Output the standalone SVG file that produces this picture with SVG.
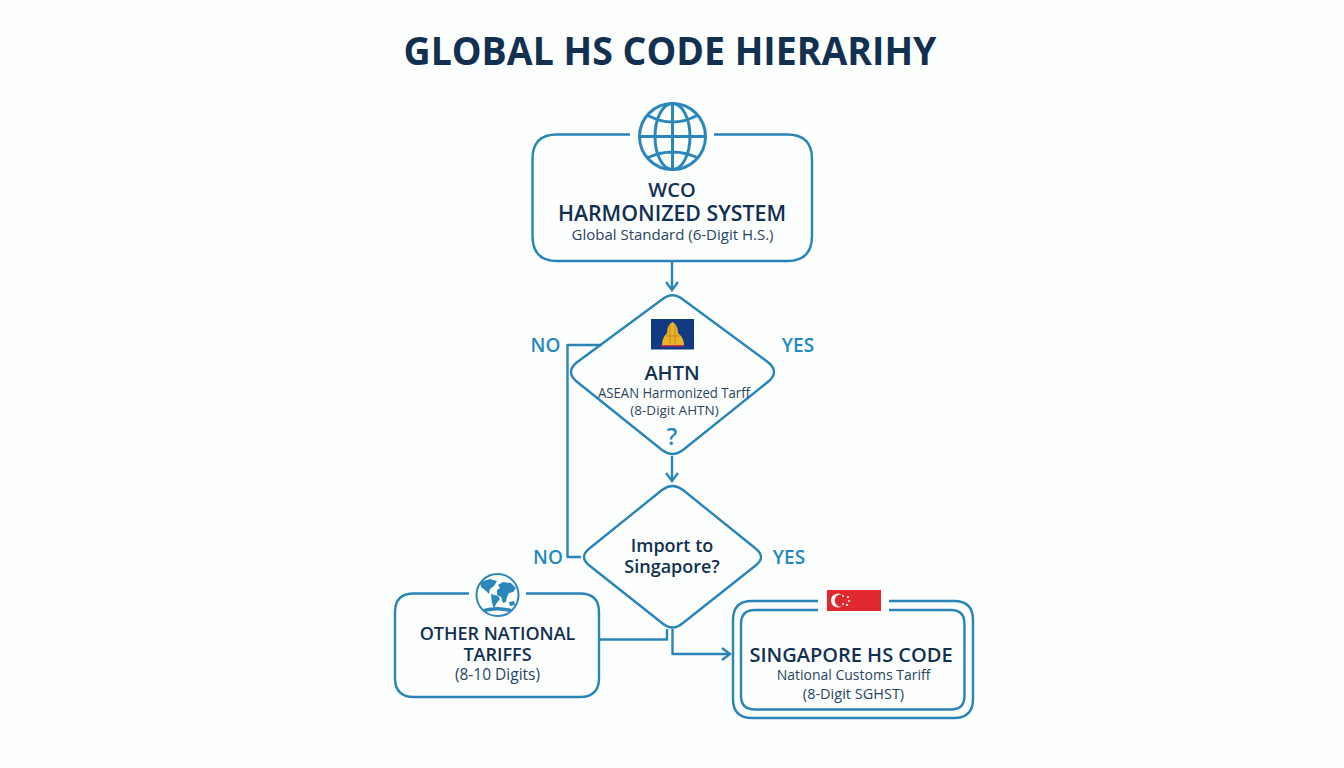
<svg xmlns="http://www.w3.org/2000/svg" width="1344" height="768" viewBox="0 0 1344 768">
<style>
.ln{fill:none;stroke:#2a84b8;stroke-width:2.4;stroke-linejoin:round}
.gl{fill:none;stroke:#2b86bb;stroke-width:3}
text{font-family:"Open Sans","Noto Sans","Liberation Sans",sans-serif;text-anchor:middle}
.h{font-weight:600;fill:#12304f;font-size:21.300px}
.m{font-weight:600;fill:#12304f;font-size:18px}
.n{font-weight:600;fill:#12304f;font-size:20px}
.s{fill:#2a4560;font-size:15px}
.t{fill:#2a4560;font-size:14px}
.l{font-weight:600;fill:#2388c0;font-size:19px}
</style>
<defs><marker id="a" markerWidth="16" markerHeight="16" refX="11" refY="7" orient="auto" markerUnits="userSpaceOnUse"><path d="M3 1L11 7L3 13" fill="none" stroke="#2a84b8" stroke-width="2.4"/></marker></defs>
<rect width="1344" height="768" fill="#fdfefe"/>
<text x="670" y="65" font-size="38.500" font-weight="700" fill="#12304f" id="title" textLength="533" lengthAdjust="spacingAndGlyphs">GLOBAL HS CODE HIERARIHY</text>
<g id="connectors">
<path class="ln" d="M672 261V290" marker-end="url(#a)"/>
<path class="ln" d="M672 456V481" marker-end="url(#a)"/>
<path class="ln" d="M602 345H567.500V557H581"/>
<path class="ln" d="M600 639.500H667V629"/>
<path class="ln" d="M672.500 629V654H730" marker-end="url(#a)"/>
</g>
<g id="wco">
<path class="ln" d="M630 134.500H557Q532.500 134.500 532.500 159V236Q532.500 261 557 261H787Q812 261 812 236V159Q812 134.500 787 134.500H714"/>
<g class="gl"><circle cx="672.500" cy="136.500" r="33"/><ellipse cx="672.500" cy="136.500" rx="17.500" ry="33"/><path d="M672.500 103.500V169.500M639.500 136.500H705.500M647 115Q672.500 129 698 115M647 158Q672.500 146 698 158"/></g>
<text class="n" x="672" y="197" style="font-size:20px">WCO</text>
<text class="h" x="672" y="221">HARMONIZED SYSTEM</text>
<text class="s" x="672.500" y="240">Global Standard (6-Digit H.S.)</text>
</g>
<g id="ahtn">
<path class="ln" d="M662 299.500Q672.500 291 683 299.500L769 363Q779 372 769 381L683 450Q672.500 458 662 450L576 381Q566 372 576 363Z" fill="#fff"/>
<rect x="651" y="319" width="43" height="30.500" fill="#123a82"/>
<path d="M672.500 322Q678 325 678 333Q684 338 684 345H662Q662 338 667 333Q667 325 672.500 322Z" fill="#e9b32a"/>
<path d="M670 325V344M675 325V344M666 336H679" stroke="#b9821a" stroke-width=".8" fill="none"/>
<rect x="661" y="345" width="23" height="1.500" fill="#c9304a"/>
<text class="n" x="672" y="380">AHTN</text>
<text class="t" x="674" y="398" textLength="152" lengthAdjust="spacingAndGlyphs">ASEAN Harmonized Tarff</text>
<text class="t" x="674.500" y="415" style="font-size:13.500px">(8-Digit AHTN)</text>
<text x="672" y="445" font-size="23" font-weight="600" fill="#2388c0">?</text>
</g>
<g id="decision">
<path class="ln" d="M662 490Q672.500 482 683 490L755 548Q767 557 755 566L683 623Q672.500 632 662 623L590 566Q578 557 590 548Z" fill="#fff"/>
<text class="m" x="672" y="552">Import to</text>
<text class="m" x="672" y="573">Singapore?</text>
</g>
<g id="other">
<path class="ln" d="M469 593.500H414Q395 593.500 395 612V678Q395 697 414 697H580Q599 697 599 678V612Q599 593.500 580 593.500H526"/>
<circle cx="497.500" cy="595" r="21" fill="none" stroke="#2b86bb" stroke-width="2"/>
<path fill="#2b86bb" d="M480 582L490 579L497 581L494 586L490 589L489 594L485 590L481 587ZM491 594L498 596L500 599L496 604L494 609L492 603ZM498 585L503 582L511 583L516 588L513 592L509 593L507 597L506 602L503 603L501 597L497 595L497 590L500 588ZM509 602L514 601L515 605L510 606ZM483 609Q497 605 512 609L510 612Q497 609 485 612Z"/>
<text class="m" x="497.500" y="640">OTHER NATIONAL</text>
<text class="m" x="497.500" y="661">TARIFFS</text>
<text class="s" x="497.500" y="680" style="font-size:15.500px">(8-10 Digits)</text>
</g>
<g id="singapore">
<path class="ln" d="M818 601H752Q733 601 733 620V699Q733 718 752 718H954Q973 718 973 699V620Q973 601 954 601H889"/>
<path class="ln" d="M818 610H755Q741 610 741 624V696Q741 709.500 755 709.500H951Q964.500 709.500 964.500 696V624Q964.500 610 951 610H889"/>
<rect x="827" y="590" width="54" height="21" fill="#e1282f"/>
<circle cx="838" cy="600.500" r="7" fill="#fff"/><circle cx="841" cy="600.500" r="6.300" fill="#e1282f"/>
<g fill="#fff"><circle cx="843" cy="596" r="1.100"/><circle cx="848" cy="597" r="1.100"/><circle cx="849" cy="601" r="1.100"/><circle cx="843" cy="604" r="1.100"/><circle cx="847" cy="605" r="1.100"/></g>
<text class="n" x="851" y="662">SINGAPORE HS CODE</text>
<text class="t" x="853.500" y="680">National Customs Tariff</text>
<text class="t" x="853.500" y="699" style="font-size:14.500px">(8-Digit SGHST)</text>
</g>
<g id="labels">
<text class="l" x="545.500" y="352">NO</text>
<text class="l" x="798" y="352">YES</text>
<text class="l" x="548" y="564">NO</text>
<text class="l" x="789" y="564">YES</text>
</g>
</svg>
